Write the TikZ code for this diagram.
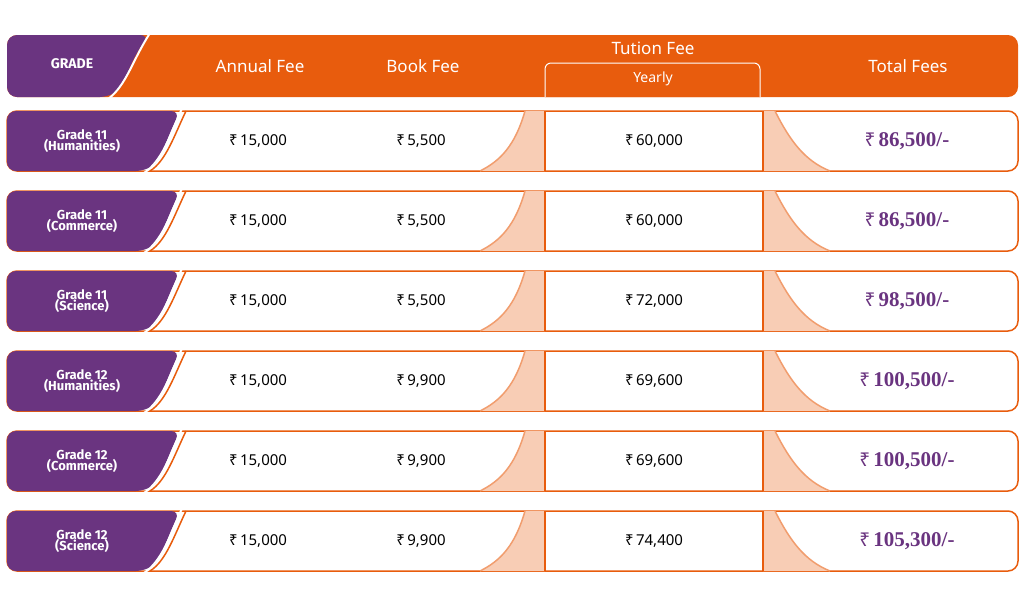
\documentclass[tikz,border=0pt]{standalone}
\usepackage{fontspec}
\setmainfont{Noto Sans}
\newfontfamily\serifb{Liberation Serif}
\newfontfamily\roundf{Fira Sans}
\definecolor{orng}{HTML}{E85C0D}
\definecolor{purp}{HTML}{6A3480}
\definecolor{peach}{HTML}{F8CDB5}
\newcommand{\rs}{\textrm{₹}}
\begin{document}
\begin{tikzpicture}[x=1pt,y=-1pt,font=\bfseries]
    \tikzstyle{head_text} = [white, font=\fontsize{17}{17}\selectfont\bfseries]
    \tikzstyle{grade_text} = [white, align=center, font=\roundf\fontsize{13}{13}\selectfont\bfseries]
    \tikzstyle{fee_text} = [black, font=\fontsize{15}{15}\selectfont\bfseries]
    \tikzstyle{total_text} = [purp, font=\fontsize{19}{19}\selectfont\bfseries]
    \tikzstyle{row_box} = [draw=orng, line width=1.5, fill=white, rounded corners=10]
    \tikzstyle{sep_style} = [orng, line width=2]

    \useasboundingbox (0,0) rectangle (1024,603);

    % header
    \fill[orng, rounded corners=10] (7,35) rectangle (1018,97);
    \fill[purp, rounded corners=10] (7,35) -- (150,35) .. controls (130,60) and (125,85) .. (110,97) -- (7,97) -- cycle;
    \draw[white, line width=2] (152,30) .. controls (132,60) and (127,85) .. (108,99);
    \draw[white, line width=1, rounded corners=6, fill=orng] (545,97) -- (545,63) -- (760,63) -- (760,97);
    \node[head_text, font=\roundf\fontsize{14}{14}\selectfont\bfseries] (hgrade) at (72,64) {GRADE};
    \node[head_text] (hannual) at (260,66) {Annual Fee};
    \node[head_text] (hbook) at (423,66) {Book Fee};
    \node[head_text] (htution) at (653,48) {Tution Fee};
    \node[head_text, font=\fontsize{14}{14}\selectfont\bfseries] (hyearly) at (653,79) {Yearly};
    \node[head_text] (htotal) at (908,66) {Total Fees};

    % rows
    \foreach \i/\ga/\gb/\bk/\tu/\tot in {
        0/Grade 11/(Humanities)/{5,500}/{60,000}/{86,500},
        1/Grade 11/(Commerce)/{5,500}/{60,000}/{86,500},
        2/Grade 11/(Science)/{5,500}/{72,000}/{98,500},
        3/Grade 12/(Humanities)/{9,900}/{69,600}/{100,500},
        4/Grade 12/(Commerce)/{9,900}/{69,600}/{100,500},
        5/Grade 12/(Science)/{9,900}/{74,400}/{105,300}} {
        \pgfmathsetmacro{\yt}{111+80*\i}
        \pgfmathsetmacro{\yb}{\yt+60}
        \pgfmathsetmacro{\ym}{\yt+30}
        \draw[row_box] (7,\yt) rectangle (1018,\yb);
        \fill[peach] (545,\yt) -- (525,\yt) .. controls (515,\yt+35) and (500,\yb-10) .. (480,\yb) -- (545,\yb) -- cycle;
        \fill[peach] (763,\yt) -- (775,\yt) .. controls (790,\yt+30) and (805,\yb-10) .. (830,\yb) -- (763,\yb) -- cycle;
        \draw[orng!60, line width=1.5] (525,\yt) .. controls (515,\yt+35) and (500,\yb-10) .. (480,\yb);
        \draw[orng!60, line width=1.5] (775,\yt) .. controls (790,\yt+30) and (805,\yb-10) .. (830,\yb);
        \draw[sep_style] (545,\yt) -- (545,\yb);
        \draw[sep_style] (763,\yt) -- (763,\yb);
        \fill[purp, rounded corners=9] (7,\yt) -- (180,\yt) .. controls (168,\yt+25) and (160,\yb-10) .. (145,\yb) -- (7,\yb) -- cycle;
        \draw[white, line width=2] (183,\yt-5) .. controls (170,\yt+25) and (162,\yb-10) .. (144,\yb+2);
        \draw[orng, line width=1.5] (186,\yt) .. controls (174,\yt+25) and (166,\yb-10) .. (150,\yb);
        \node[grade_text] (g\i) at (82,\ym) {\ga\\[-2pt]\gb};
        \node[fee_text] (a\i) at (258,\ym) {\rs\,15,000};
        \node[fee_text] (b\i) at (421,\ym) {\rs\,\bk};
        \node[fee_text] (t\i) at (654,\ym) {\rs\,\tu};
        \node[total_text] (s\i) at (907,\ym) {\rs\,{\serifb\bfseries\fontsize{21}{21}\selectfont\tot/-}};
    }
\end{tikzpicture}
\end{document}
